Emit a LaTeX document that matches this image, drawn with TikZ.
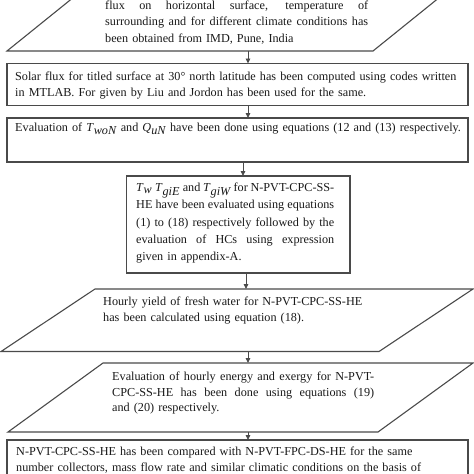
\documentclass[tikz,border=0pt]{standalone}
\usepackage{fontspec}
\setmainfont{Liberation Serif}
\usetikzlibrary{arrows.meta}
\definecolor{boxgray}{HTML}{4A4A4A}
\definecolor{txtcol}{HTML}{1A1A1A}
\hyphenpenalty=10000
\exhyphenpenalty=10000
\newcommand{\jl}[2]{{\spaceskip=3pt plus 12pt minus 1pt\relax\makebox[#1][s]{#2}}}
\newcommand{\sub}[1]{$_{\textit{#1}}$}
\begin{document}
\begin{tikzpicture}[x=1pt,y=-1pt,
  shp/.style={draw=boxgray, line width=1.1pt},
  box/.style={shp, inner sep=0pt, outer sep=0pt},
  arr/.style={draw=boxgray, line width=0.9pt, -{Triangle[length=5pt,width=4.5pt]}},
  txt/.style={anchor=base west, inner sep=0pt, text=txtcol, text width=#1, align=left,
    font=\fontsize{12.2}{16.3}\selectfont},
  txtT/.style={txt=#1, font=\fontsize{12.2}{17.3}\selectfont},
]
\useasboundingbox (0,0) rectangle (474,474);
\clip (0,0) rectangle (474,474);
\fill[white] (0,0) rectangle (474,474);

% parallelogram 1 (top, clipped)
\draw[shp] (7,51) -- (373,51) -- (461,-20) -- (95,-20) -- cycle;
\coordinate (p1b) at (248,51);
\node[txt=270pt] (t1) at (105,9.5) {\jl{263pt}{flux on horizontal surface, temperature of}\\
\jl{263pt}{surrounding and for different climate conditions has}\\
been obtained from IMD, Pune, India};

% box 2
\node[box, minimum width=461pt, minimum height=42pt] (b2) at (237.5,84.5) {};
\node[txt=458pt] (t2) at (15,80.5) {Solar flux for titled surface at 30° north latitude has been computed using codes written\\
in MTLAB. For given by Liu and Jordon has been used for the same.};

% box 3
\node[box, minimum width=461pt, minimum height=44pt] (b3) at (237.5,140) {};
\node[txt=458pt] (t3) at (15,131) {Evaluation of \textit{T}\sub{woN} and \textit{Q}\sub{uN} have been done using equations (12 and (13) respectively.};

% box T
\node[box, minimum width=223.5pt, minimum height=97pt] (b4) at (238.25,224.5) {};
\node[txtT=205pt] (t4) at (136,191.5) {\jl{198pt}{\textit{T}\sub{w} \textit{T}\sub{giE} and \textit{T}\sub{giW} for N-PVT-CPC-SS-}\\
\jl{198pt}{HE have been evaluated using equations}\\
\jl{198pt}{(1) to (18) respectively followed by the}\\
\jl{198pt}{evaluation of HCs using expression}\\
given in appendix-A.};

% parallelogram 2
\draw[shp] (1,351.5) -- (379,351.5) -- (473,289) -- (95,289) -- cycle;
\coordinate (p2t) at (246,289);
\coordinate (p2b) at (248,351.5);
\node[txt=275pt] (t5) at (103,305) {Hourly yield of fresh water for N-PVT-CPC-SS-HE\\
has been calculated using equation (18).};

% parallelogram 3
\draw[shp] (8,432) -- (378,432) -- (473,363) -- (103,363) -- cycle;
\coordinate (p3t) at (248,363);
\coordinate (p3b) at (248,432);
\node[txt=270pt, font=\fontsize{12.2}{15.7}\selectfont] (t6) at (112,380.5) {\jl{262pt}{Evaluation of hourly energy and exergy for N-PVT-}\\
\jl{262pt}{CPC-SS-HE has been done using equations (19)}\\
and (20) respectively.};

% final box
\node[box, minimum width=461pt, minimum height=60pt] (b7) at (237.5,470) {};
\node[txt=455pt] (t7) at (16,455) {N-PVT-CPC-SS-HE has been compared with N-PVT-FPC-DS-HE for the same\\
number collectors, mass flow rate and similar climatic conditions on the basis of};

% connectors
\draw[arr] (p1b) -- (p1b |- b2.north);
\draw[arr] (b2.south -| p1b) -- (b3.north -| p1b);
\coordinate (a3) at (243,0);
\draw[arr] (b3.south -| a3) -- (b4.north -| a3);
\draw[arr] (b4.south -| p2t) -- (p2t);
\draw[arr] (p2b) -- (p3t);
\draw[arr] (p3b) -- (p3b |- b7.north);
\end{tikzpicture}
\end{document}
